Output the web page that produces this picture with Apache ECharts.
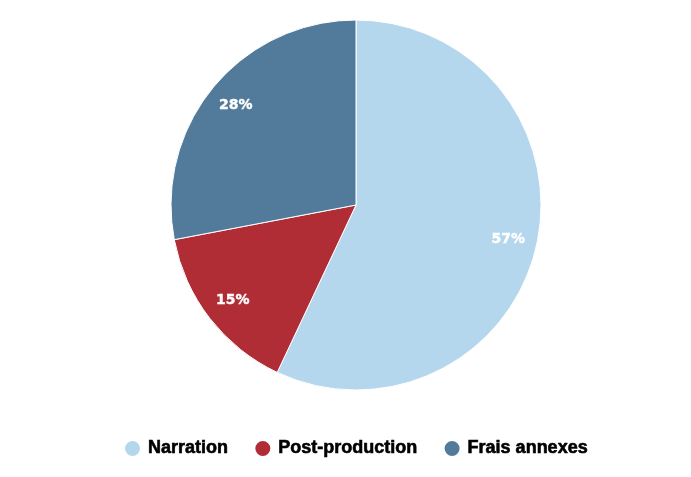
<!DOCTYPE html>
<html><head><meta charset="utf-8">
<script src="https://cdn.jsdelivr.net/npm/echarts@6/dist/echarts.min.js"></script>
<style>html,body{margin:0;padding:0;background:#fff}#c{width:691px;height:477px}</style>
</head><body><div id="c"></div>
<script>
const categories = ['Narration', 'Post-production', 'Frais annexes'];
const values = [57, 15, 28];
const colors = ['#b5d7ee', '#b02d35', '#527b9b'];

const data = categories.map((n, i) => ({ name: n, value: values[i], itemStyle: { color: colors[i] } }));
const chart = echarts.init(document.getElementById('c'));
chart.setOption({
  animation: false,
  legend: {
    top: 434, left: 118, icon: 'circle', itemWidth: 17, itemHeight: 17, itemGap: 25,
    textStyle: { fontFamily: 'Liberation Sans, Arial', fontWeight: 'bold', fontSize: 18, color: '#000',
      textBorderColor: '#000', textBorderWidth: 0.6, padding: [0, 0, 0, 2] },
    data: categories
  },
  series: [{
    type: 'pie', center: [356, 205], radius: [0, 185], startAngle: 90, clockwise: true,
    itemStyle: { borderColor: '#fff', borderWidth: 1 },
    label: { show: false }, labelLine: { show: false }, emphasis: { disabled: true },
    data: data
  }, {
    type: 'pie', center: [356, 205], radius: [121, 185], startAngle: 90, clockwise: true,
    silent: true, legendHoverLink: false,
    itemStyle: { color: 'rgba(0,0,0,0)', borderWidth: 0 },
    label: { show: true, position: 'inside', formatter: p => Math.round(p.percent) + '%',
      color: '#fff', fontFamily: 'DejaVu Sans, Verdana', fontWeight: 'bold', fontSize: 14,
      textBorderColor: '#fff', textBorderWidth: 0.4 },
    labelLine: { show: false }, emphasis: { disabled: true },
    data: categories.map((n, i) => ({ name: n + ' ', value: values[i] }))
  }]
});
</script></body></html>
